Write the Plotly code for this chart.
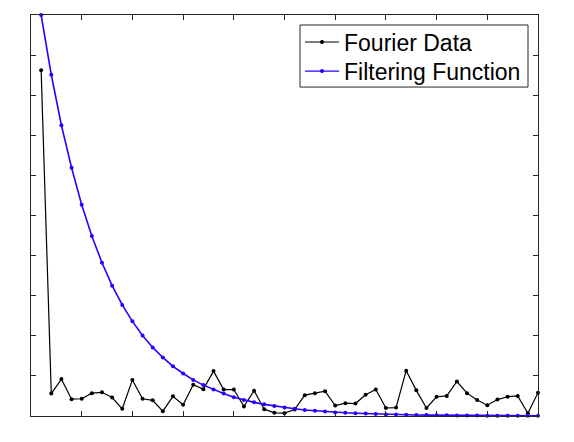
import plotly.graph_objs as go

# sample index 1..50
k = list(range(1, 51))

# Fourier coefficient magnitudes (normalised to the axis)
fourier_data = [0.862, 0.056, 0.092, 0.042, 0.043, 0.057, 0.059, 0.046, 0.018, 0.090,
                0.043, 0.039, 0.012, 0.049, 0.028, 0.078, 0.067, 0.112, 0.066, 0.066,
                0.024, 0.063, 0.017, 0.008, 0.007, 0.016, 0.052, 0.057, 0.062, 0.026,
                0.032, 0.031, 0.053, 0.066, 0.020, 0.021, 0.113, 0.064, 0.020, 0.048,
                0.050, 0.086, 0.057, 0.040, 0.027, 0.041, 0.048, 0.050, 0.007, 0.058]

# filter weights
filtering_function = [1.000, 0.851, 0.725, 0.619, 0.527, 0.449, 0.382, 0.325, 0.277, 0.236,
                      0.201, 0.171, 0.146, 0.124, 0.106, 0.090, 0.077, 0.066, 0.056, 0.047,
                      0.040, 0.034, 0.029, 0.025, 0.021, 0.018, 0.015, 0.013, 0.011, 0.009,
                      0.008, 0.007, 0.006, 0.005, 0.004, 0.0036, 0.003, 0.0026, 0.0022, 0.0019,
                      0.0016, 0.0014, 0.0012, 0.001, 0.0008, 0.0007, 0.0006, 0.0005, 0.0004, 0.0004]

series_names = ["Fourier Data", "Filtering Function"]
series_colors = ["black", "#2800ff"]

axis_color = "#262626"

fig = go.Figure()
fig.add_trace(go.Scatter(x=k, y=fourier_data, name=series_names[0], mode="lines+markers",
                         line=dict(color=series_colors[0], width=1.2),
                         marker=dict(color=series_colors[0], size=4), cliponaxis=False))
fig.add_trace(go.Scatter(x=k, y=filtering_function, name=series_names[1], mode="lines+markers",
                         line=dict(color=series_colors[1], width=1.6),
                         marker=dict(color=series_colors[1], size=4), cliponaxis=False))

axis_common = dict(showgrid=False, zeroline=False, showline=True, linecolor=axis_color, linewidth=1,
                   mirror="ticks", ticks="inside", ticklen=5, tickcolor=axis_color, tickwidth=1,
                   showticklabels=False)

# MATLAB-style legend box drawn by hand (plotly's legend rows are too tall)
# plot area is 507 x 400.7 px, so convert pixel offsets inside it to paper units
def px(xp):
    return (xp - 23) / 507.0

def py(yp):
    return (407.7 - yp) / 400.7

shapes = [dict(type="rect", xref="paper", yref="paper",
               x0=px(292), x1=px(520), y0=py(17), y1=py(79),
               line=dict(color=axis_color, width=1), fillcolor="white", layer="above")]
annotations = []
row_y = [34, 63]
for name, color, ry in zip(series_names, series_colors, row_y):
    shapes.append(dict(type="line", xref="paper", yref="paper",
                       x0=px(297), x1=px(331), y0=py(ry), y1=py(ry),
                       line=dict(color=color, width=1.2), layer="above"))
    shapes.append(dict(type="circle", xref="paper", yref="paper",
                       xsizemode="pixel", ysizemode="pixel",
                       xanchor=px(314), yanchor=py(ry), x0=-1.6, x1=1.6, y0=-1.6, y1=1.6,
                       line=dict(color=color, width=1), fillcolor=color, layer="above"))
    annotations.append(dict(text=name, xref="paper", yref="paper", x=px(334), y=py(ry + 1),
                            xanchor="left", yanchor="middle", showarrow=False,
                            font=dict(family="Liberation Sans, Arial", size=23, color="black")))

# page body has an 8px margin, so the figure is a bit smaller than the window
fig.update_layout(
    width=566, height=434,
    margin=dict(l=23, r=36, t=7, b=26),
    paper_bgcolor="white", plot_bgcolor="white",
    xaxis=dict(range=[0, 50], tick0=0, dtick=5, **axis_common),
    yaxis=dict(range=[0, 1], tick0=0, dtick=0.1, **axis_common),
    showlegend=False,
    shapes=shapes,
    annotations=annotations,
)

fig.write_html("out.html")
